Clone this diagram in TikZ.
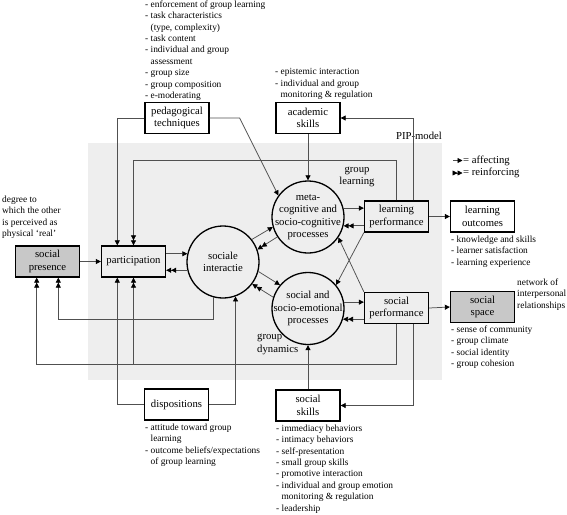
\documentclass[tikz,border=0pt]{standalone}
\usepackage{fontspec}
\setmainfont{Liberation Serif}
\usetikzlibrary{positioning,calc,arrows.meta}
\definecolor{PanelGray}{RGB}{238,238,238}
\definecolor{ShadeGray}{RGB}{200,200,200}
\definecolor{WireGray}{RGB}{80,80,80}
\newcommand{\indentgap}{\phantom{- }}
\tikzset{
	box/.style={draw=black,line width=1.3pt,minimum width=64pt,minimum height=31pt,inner sep=1pt,align=center,font=\fontsize{10.7}{12.5}\selectfont},
	proc/.style={circle,draw=black,line width=1.3pt,minimum size=72pt,inner sep=0pt},
	ptext/.style={align=center,font=\fontsize{10.7}{12.5}\selectfont},
	note/.style={anchor=north west,align=left,inner sep=0pt,font=\fontsize{9.4}{11.4}\selectfont},
	tag/.style={inner sep=0pt,font=\fontsize{10.7}{12.5}\selectfont},
	link/.style={draw=WireGray,line width=0.75pt,-{Triangle[length=5pt,width=5pt,color=black]}},
	rein/.style={draw=WireGray,line width=0.75pt,-{Triangle[length=5pt,width=5pt,color=black]Triangle[length=5pt,width=5pt,color=black]}},
}
\begin{document}
\begin{tikzpicture}[x=1pt,y=-1pt]
	\useasboundingbox (0,0) rectangle (567,514);
	\fill[PanelGray] (88,143) rectangle (442,380);

	\node[box] (ped) at (177,118) {pedagogical\\techniques};
	\node[box] (acad) at (308,118) {academic\\skills};
	\node[box] (lperf) at (396.5,216.5) {learning\\performance};
	\node[box] (lout) at (482.5,216.5) {learning\\outcomes};
	\node[box,fill=ShadeGray] (spres) at (47.5,261.5) {social\\presence};
	\node[box] (part) at (133.5,261.5) {participation};
	\node[proc,label={[ptext]center:sociale\\interactie}] (inter) at (223,262) {};
	\node[proc,label={[ptext]center:meta-\\cognitive and\\socio-cognitive\\processes}] (meta) at (308,217) {};
	\node[proc,label={[ptext]center:social and\\socio-emotional\\processes}] (semo) at (308,308.5) {};
	\node[box] (sperf) at (396.5,308) {social\\performance};
	\node[box,fill=ShadeGray] (sspace) at (482.5,307) {social\\space};
	\node[box] (disp) at (176.5,404.5) {dispositions};
	\node[box] (sskill) at (308,405.5) {social\\skills};

	\node[note] (pednote) at (145,0.5) {- enforcement of group learning\\- task characteristics\\\indentgap(type, complexity)\\- task content\\- individual and group\\\indentgap assessment\\- group size\\- group composition\\- e-moderating};
	\node[note] (acadnote) at (275,68.5) {- epistemic interaction\\- individual and group\\\indentgap monitoring \& regulation};
	\node[note] (loutnote) at (451,235.5) {- knowledge and skills\\- learner satisfaction\\- learning experience};
	\node[note] (spacenote) at (451,325.5) {- sense of community\\- group climate\\- social identity\\- group cohesion};
	\node[note] (netnote) at (517,278.5) {network of\\interpersonal\\relationships};
	\node[note] (presnote) at (2,195.5) {degree to\\which the other\\is perceived as\\physical `real'};
	\node[note] (dispnote) at (145,423.5) {- attitude toward group\\\indentgap learning\\- outcome beliefs/expectations\\\indentgap of group learning};
	\node[note] (skillnote) at (276,424.5) {- immediacy behaviors\\- intimacy behaviors\\- self-presentation\\- small group skills\\- promotive interaction\\- individual and group emotion\\\indentgap monitoring \& regulation\\- leadership};

	\node[tag] (pip) at (419,136) {PIP-model};
	\node[tag,align=center] (glearn) at (357,177) {group\\learning};
	\node[tag,anchor=north west,align=left] (gdyn) at (257,334) {group\\dynamics};

	\coordinate (affa) at (453,160.5);
	\coordinate (affb) at (462.5,160.5);
	\coordinate (reina) at (453,173);
	\coordinate (reinb) at (462.5,173);
	\node[tag,anchor=west] (afftext) at (463,160.5) {= affecting};
	\node[tag,anchor=west] (reintext) at (463,173) {= reinforcing};
	\draw[link] (affa) -- (affb);
	\draw[rein] (reina) -- (reinb);

	\draw[link] (ped.west) -| ([xshift=-16.2pt]part.north);
	\draw[link] (ped.east) -- ++(30,0) -- (meta.144);
	\draw[link] (acad.south) -- (meta.north);
	\draw[link] ([xshift=16.5pt]lperf.north) |- (acad.east);
	\draw[rein] (lperf.north) -- ++(0,-40) -| (part.north);
	\draw[link] (meta.14) -- (lperf.west |- meta.14);
	\draw[rein] (lperf.west |- meta.-14) -- (meta.-14);
	\draw[link] (lperf.east) -- (lout.west);
	\draw[link] (lperf.south west) -- (semo.40);
	\draw[link] (sperf.north west) -- (meta.-34);
	\draw[link] (semo.10) -- (sperf.west |- semo.10);
	\draw[rein] (sperf.west |- semo.-17) -- (semo.-17);
	\draw[link] (sperf.east) -- (sspace.west);
	\draw[link] ([xshift=16.5pt]sperf.south) |- (sskill.east);
	\draw[rein] (sperf.south) -- ++(0,40) coordinate (lowrun) -| ([xshift=-10.8pt]spres.south);
	\draw[rein] (part.south |- lowrun) -- (part.south);
	\draw[rein] (inter.254) -- ++(0,21.7) -| ([xshift=10.8pt]spres.south);
	\draw[link] (spres.east) -- (part.west);
	\draw[link] (part.east |- inter.167) -- (inter.167);
	\draw[rein] (inter.193) -- (part.east |- inter.193);
	\draw[link] (inter.38) -- (meta.196);
	\draw[rein] (meta.213) -- (inter.20);
	\draw[link] (inter.-15) -- (semo.140);
	\draw[rein] (semo.162) -- (inter.-37);
	\draw[link] (disp.west) -| ([xshift=-16.2pt]part.south);
	\draw[link] (disp.east) -| (inter.290);
	\draw[link] (sskill.north) -- (semo.south);
\end{tikzpicture}
\end{document}
